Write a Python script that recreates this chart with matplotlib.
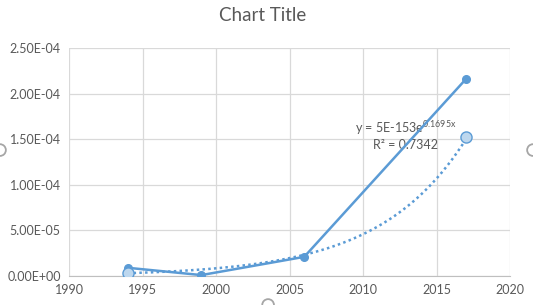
import numpy as np
import matplotlib.pyplot as plt
from matplotlib.patches import Ellipse

# data
years = [1994, 1999, 2006, 2017]
values = [9.0e-6, 1.0e-6, 2.1e-5, 2.16e-4]
fit_years = [1994, 2017]
fit_values = [3.0e-6, 1.52e-4]

# exponential trendline as shown on the chart
trend_a = 5e-153
trend_b = 0.1695
trend_r2 = 0.7342

xticks = [1990, 1995, 2000, 2005, 2010, 2015, 2020]
yticks = [0, 5e-5, 1e-4, 1.5e-4, 2e-4, 2.5e-4]

blue = '#5B9BD5'
light = '#BDD7EE'
grey = '#595959'

plt.rcParams['font.family'] = ['Lato', 'DejaVu Sans']

fig = plt.figure(figsize=(5.33, 3.05), dpi=100)
ax = fig.add_axes([0.1295, 0.0951, 0.8275, 0.7475])

# trendline
tx = np.linspace(fit_years[0], fit_years[-1], 200)
ty = trend_a * np.exp(trend_b * tx)
ax.plot(tx, ty, color=blue, linestyle=(0, (1, 1.3)), linewidth=1.8, zorder=3)

ax.plot(years, values, color=blue, linewidth=1.8, marker='o', markersize=5.5,
        markerfacecolor=blue, markeredgecolor=blue, zorder=4)
ax.plot(fit_years, fit_values, linestyle='none', marker='o', markersize=8,
        markerfacecolor=light, markeredgecolor=blue, markeredgewidth=1, zorder=5)

ax.text(2012.9, 1.62e-4, r'y = 5E-153e$^{\mathregular{0.1695x}}$', ha='center',
        va='center', fontsize=9, color=grey)
ax.text(2012.9, 1.44e-4, 'R² = %.4f' % trend_r2, ha='center', va='center',
        fontsize=9, color=grey)

ax.set_xlim(1990, 2020)
ax.set_ylim(0, 2.5e-4)
ax.set_xticks(xticks)
ax.set_yticks(yticks)
ax.set_yticklabels(['%.2E' % v for v in yticks])
ax.grid(True, color='#D9D9D9', linewidth=0.9)
ax.set_axisbelow(True)
for s in ['left', 'right', 'top']:
    ax.spines[s].set_visible(False)
ax.spines['bottom'].set_color('#BFBFBF')
ax.tick_params(length=0, labelsize=9, labelcolor=grey, pad=6)

fig.text(0.492, 0.948, 'Chart Title', ha='center', va='center', fontsize=13.5, color=grey)

# selection handles at the chart edges
r = 0.011
for cx, cy in [(0, 0.508), (1.0, 0.508), (0.503, 0.0)]:
    fig.patches.append(Ellipse((cx, cy), 2 * r, 2 * r * 5.33 / 3.05,
                               transform=fig.transFigure, facecolor='white',
                               edgecolor='#A6A6A6', linewidth=1.3))

fig.savefig('out.png', dpi=100)
